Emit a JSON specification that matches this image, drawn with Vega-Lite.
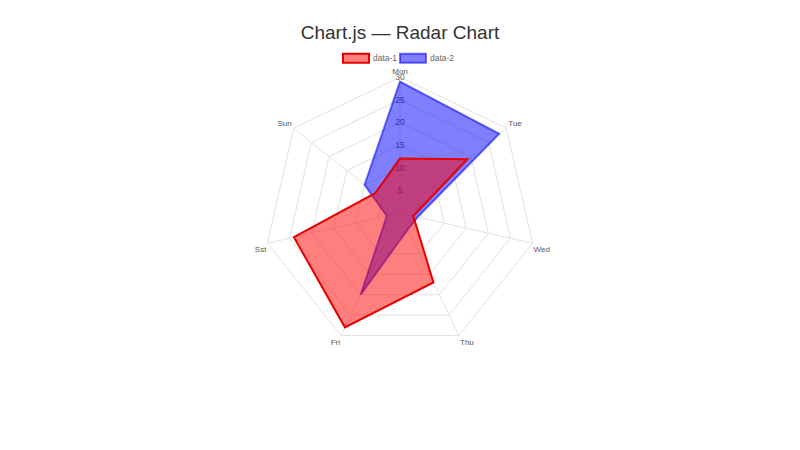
{
  "$schema": "https://vega.github.io/schema/vega-lite/v6.json",
  "width": 800,
  "height": 450,
  "padding": 0,
  "autosize": {"type": "none"},
  "title": {
    "text": "Chart.js — Radar Chart",
    "font": "Liberation Sans",
    "fontSize": 19,
    "fontWeight": "normal",
    "color": "#333",
    "anchor": "middle",
    "frame": "group",
    "offset": -43
  },
  "datasets": {
    "axes": [
      {"day": "Mon", "idx": 0},
      {"day": "Tue", "idx": 1},
      {"day": "Wed", "idx": 2},
      {"day": "Thu", "idx": 3},
      {"day": "Fri", "idx": 4},
      {"day": "Sst", "idx": 5},
      {"day": "Sun", "idx": 6}
    ],
    "rings": [
      {"level": 5, "idx": [0, 1, 2, 3, 4, 5, 6]},
      {"level": 10, "idx": [0, 1, 2, 3, 4, 5, 6]},
      {"level": 15, "idx": [0, 1, 2, 3, 4, 5, 6]},
      {"level": 20, "idx": [0, 1, 2, 3, 4, 5, 6]},
      {"level": 25, "idx": [0, 1, 2, 3, 4, 5, 6]},
      {"level": 30, "idx": [0, 1, 2, 3, 4, 5, 6]}
    ],
    "series": [
      {"series": "data-1", "day": "Mon", "idx": 0, "value": 12},
      {"series": "data-1", "day": "Tue", "idx": 1, "value": 19},
      {"series": "data-1", "day": "Wed", "idx": 2, "value": 3},
      {"series": "data-1", "day": "Thu", "idx": 3, "value": 17},
      {"series": "data-1", "day": "Fri", "idx": 4, "value": 28},
      {"series": "data-1", "day": "Sst", "idx": 5, "value": 24},
      {"series": "data-1", "day": "Sun", "idx": 6, "value": 7},
      {"series": "data-2", "day": "Mon", "idx": 0, "value": 29},
      {"series": "data-2", "day": "Tue", "idx": 1, "value": 28},
      {"series": "data-2", "day": "Wed", "idx": 2, "value": 4},
      {"series": "data-2", "day": "Thu", "idx": 3, "value": 4},
      {"series": "data-2", "day": "Fri", "idx": 4, "value": 20},
      {"series": "data-2", "day": "Sst", "idx": 5, "value": 3},
      {"series": "data-2", "day": "Sun", "idx": 6, "value": 10}
    ]
  },
  "encoding": {
    "x": {
      "field": "px",
      "type": "quantitative",
      "scale": {"domain": [-88.235, 88.235], "nice": false, "zero": false},
      "axis": null
    },
    "y": {
      "field": "py",
      "type": "quantitative",
      "scale": {"domain": [-52.279, 46.985], "nice": false, "zero": false},
      "axis": null
    }
  },
  "layer": [
    {
      "data": {"name": "rings"},
      "transform": [
        {"flatten": ["idx"]},
        {"calculate": "datum.idx * 2 * PI / 7", "as": "a"},
        {"calculate": "datum.level * sin(datum.a)", "as": "px"},
        {"calculate": "datum.level * cos(datum.a)", "as": "py"}
      ],
      "mark": {"type": "line", "interpolate": "linear-closed", "stroke": "#e2e2e2", "strokeWidth": 1},
      "encoding": {
        "detail": {"field": "level"},
        "order": {"field": "idx", "type": "quantitative"}
      }
    },
    {
      "data": {"name": "axes"},
      "transform": [
        {"calculate": "datum.idx * 2 * PI / 7", "as": "a"},
        {"calculate": "30 * sin(datum.a)", "as": "px"},
        {"calculate": "30 * cos(datum.a)", "as": "py"}
      ],
      "mark": {"type": "rule", "stroke": "#e2e2e2", "strokeWidth": 1},
      "encoding": {
        "x2": {"datum": 0},
        "y2": {"datum": 0}
      }
    },
    {
      "data": {"name": "rings"},
      "transform": [
        {"calculate": "0", "as": "px"},
        {"calculate": "datum.level", "as": "py"}
      ],
      "mark": {"type": "text", "font": "Liberation Sans", "fontSize": 8.5, "color": "#666", "align": "center", "baseline": "middle"},
      "encoding": {
        "text": {"field": "level"}
      }
    },
    {
      "data": {"name": "series"},
      "transform": [
        {"filter": "datum.series === 'data-2'"},
        {"calculate": "datum.idx * 2 * PI / 7", "as": "a"},
        {"calculate": "datum.value * sin(datum.a)", "as": "px"},
        {"calculate": "datum.value * cos(datum.a)", "as": "py"}
      ],
      "mark": {"type": "line", "interpolate": "linear-closed", "strokeWidth": 2},
      "encoding": {
        "fill": {
          "field": "series",
          "type": "nominal",
          "scale": {"domain": ["data-1", "data-2"], "range": ["rgba(255,0,0,0.5)", "rgba(0,0,255,0.5)"]},
          "legend": {
            "orient": "none",
            "legendX": 342,
            "legendY": 44,
            "direction": "horizontal",
            "title": null,
            "symbolType": "M-1,-0.35H1V0.35H-1Z",
            "symbolSize": 676,
            "symbolStrokeWidth": 2,
            "labelFont": "Liberation Sans",
            "labelFontSize": 8.5,
            "labelColor": "#666",
            "labelOffset": 3,
            "columnPadding": -2
          }
        },
        "stroke": {
          "field": "series",
          "type": "nominal",
          "scale": {"domain": ["data-1", "data-2"], "range": ["#e60000", "rgba(0,0,255,0.55)"]}
        },
        "order": {"field": "idx", "type": "quantitative"}
      }
    },
    {
      "data": {"name": "series"},
      "transform": [
        {"filter": "datum.series === 'data-1'"},
        {"calculate": "datum.idx * 2 * PI / 7", "as": "a"},
        {"calculate": "datum.value * sin(datum.a)", "as": "px"},
        {"calculate": "datum.value * cos(datum.a)", "as": "py"}
      ],
      "mark": {"type": "line", "interpolate": "linear-closed", "strokeWidth": 2},
      "encoding": {
        "fill": {"field": "series", "type": "nominal"},
        "stroke": {"field": "series", "type": "nominal"},
        "order": {"field": "idx", "type": "quantitative"}
      }
    },
    {
      "data": {"name": "axes"},
      "transform": [
        {"filter": "datum.day === 'Mon'"},
        {"calculate": "0", "as": "px"},
        {"calculate": "30", "as": "py"}
      ],
      "mark": {"type": "text", "font": "Liberation Sans", "fontSize": 8, "color": "#555", "align": "center", "baseline": "bottom", "dy": -1},
      "encoding": {"text": {"field": "day"}}
    },
    {
      "data": {"name": "axes"},
      "transform": [
        {"filter": "datum.day === 'Tue'"},
        {"calculate": "datum.idx * 2 * PI / 7", "as": "a"},
        {"calculate": "30 * sin(datum.a)", "as": "px"},
        {"calculate": "30 * cos(datum.a)", "as": "py"}
      ],
      "mark": {"type": "text", "font": "Liberation Sans", "fontSize": 8, "color": "#555", "align": "left", "baseline": "middle", "dx": 2, "dy": -4},
      "encoding": {"text": {"field": "day"}}
    },
    {
      "data": {"name": "axes"},
      "transform": [
        {"filter": "datum.day === 'Sun'"},
        {"calculate": "datum.idx * 2 * PI / 7", "as": "a"},
        {"calculate": "30 * sin(datum.a)", "as": "px"},
        {"calculate": "30 * cos(datum.a)", "as": "py"}
      ],
      "mark": {"type": "text", "font": "Liberation Sans", "fontSize": 8, "color": "#555", "align": "right", "baseline": "middle", "dx": -2, "dy": -4},
      "encoding": {"text": {"field": "day"}}
    },
    {
      "data": {"name": "axes"},
      "transform": [
        {"filter": "datum.day === 'Wed' || datum.day === 'Thu'"},
        {"calculate": "datum.idx * 2 * PI / 7", "as": "a"},
        {"calculate": "30 * sin(datum.a)", "as": "px"},
        {"calculate": "30 * cos(datum.a)", "as": "py"}
      ],
      "mark": {"type": "text", "font": "Liberation Sans", "fontSize": 8, "color": "#555", "align": "left", "baseline": "middle", "dx": 1, "dy": 7},
      "encoding": {"text": {"field": "day"}}
    },
    {
      "data": {"name": "axes"},
      "transform": [
        {"filter": "datum.day === 'Fri' || datum.day === 'Sst'"},
        {"calculate": "datum.idx * 2 * PI / 7", "as": "a"},
        {"calculate": "30 * sin(datum.a)", "as": "px"},
        {"calculate": "30 * cos(datum.a)", "as": "py"}
      ],
      "mark": {"type": "text", "font": "Liberation Sans", "fontSize": 8, "color": "#555", "align": "right", "baseline": "middle", "dx": -1, "dy": 7},
      "encoding": {"text": {"field": "day"}}
    }
  ],
  "config": {
    "view": {"stroke": null},
    "background": "white"
  }
}
